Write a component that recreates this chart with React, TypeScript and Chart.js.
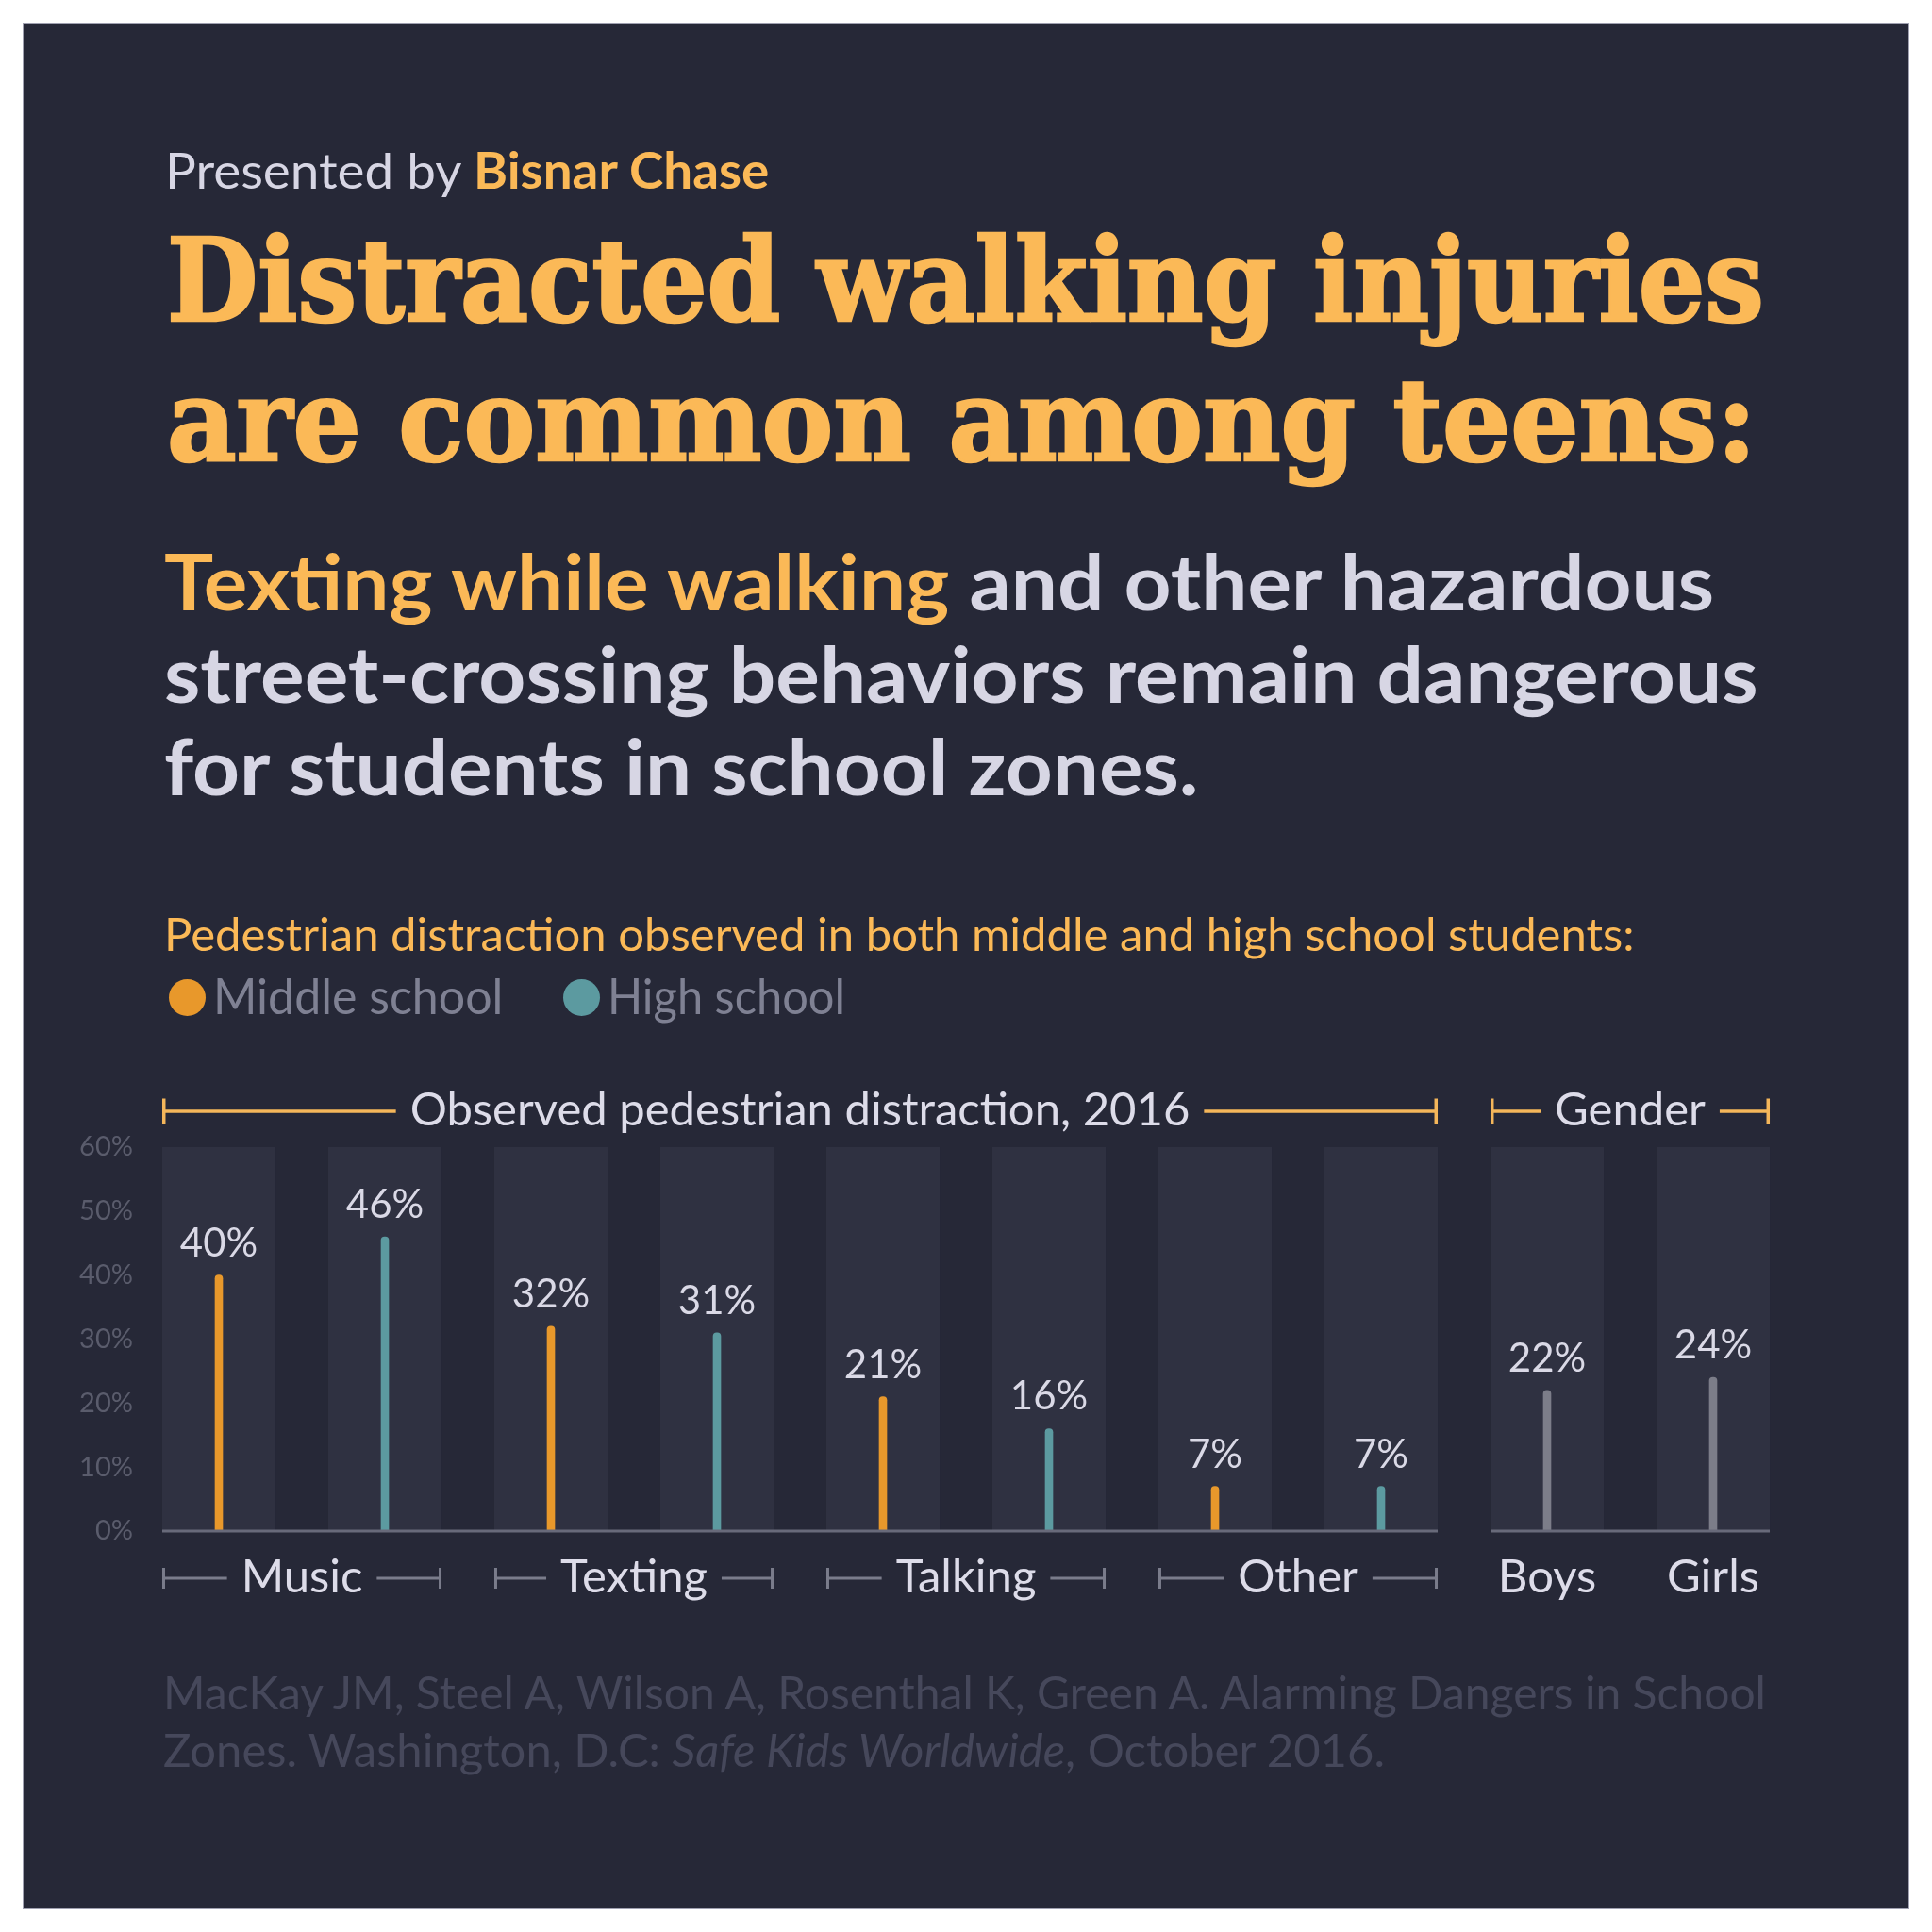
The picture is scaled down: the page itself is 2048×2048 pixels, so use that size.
import React, { useEffect, useLayoutEffect, useRef } from 'react';
import { Chart, registerables } from 'chart.js';

Chart.register(...registerables);

// ---------- data ----------
const GROUPS = ['Music', 'Texting', 'Talking', 'Other'];
const SERIES_NAMES = ['Middle school', 'High school'];
const MIDDLE_SCHOOL = [40, 32, 21, 7];
const HIGH_SCHOOL = [46, 31, 16, 7];
const GENDER_LABELS = ['Boys', 'Girls'];
const GENDER_VALUES = [22, 24];
const Y_TICKS = [0, 10, 20, 30, 40, 50, 60];
const AXIS_MAX = 60;
const MAIN_SECTION = 'Observed pedestrian distraction, 2016';
const GENDER_SECTION = 'Gender';

// ---------- style ----------
const ORANGE_TEXT = '#fbb957';
const LIGHT_TEXT = '#d7d6e4';
const PANEL_BG = '#262837';
const COLUMN_BG = '#2f3141';
const KIND_COLORS: Record<string, string> = {
  middle: '#e8982b',
  high: '#5c9aa0',
  gender: '#7c7d89',
};

type Slot = { key: string; value: number; kind: 'middle' | 'high' | 'gender' };
const SLOTS: Slot[] = [];
GROUPS.forEach((g, i) => {
  SLOTS.push({ key: `${g} – ${SERIES_NAMES[0]}`, value: MIDDLE_SCHOOL[i], kind: 'middle' });
  SLOTS.push({ key: `${g} – ${SERIES_NAMES[1]}`, value: HIGH_SCHOOL[i], kind: 'high' });
});
GENDER_LABELS.forEach((g, i) => {
  SLOTS.push({ key: g, value: GENDER_VALUES[i], kind: 'gender' });
});

// ---------- fitted text line ----------
function FitLine(props: {
  x: number;
  baseline: number;
  width: number;
  style?: React.CSSProperties;
  children: React.ReactNode;
}) {
  const { x, baseline, width, style, children } = props;
  const boxRef = useRef<HTMLDivElement>(null);
  const markRef = useRef<HTMLSpanElement>(null);
  useLayoutEffect(() => {
    const fit = () => {
      const box = boxRef.current;
      const mark = markRef.current;
      if (!box || !mark) return;
      box.style.transform = 'none';
      const w = box.offsetWidth;
      const b = mark.offsetTop;
      box.style.top = `${baseline - b}px`;
      if (w > 0) box.style.transform = `scaleX(${width / w})`;
    };
    fit();
    const fonts = (document as any).fonts;
    if (fonts && fonts.ready) fonts.ready.then(fit);
  }, [x, baseline, width]);
  return (
    <div
      ref={boxRef}
      style={{
        position: 'absolute',
        left: x,
        top: 0,
        whiteSpace: 'nowrap',
        lineHeight: 'normal',
        transformOrigin: '0 0',
        ...style,
      }}
    >
      {children}
      <span
        ref={markRef}
        style={{ display: 'inline-block', width: 0, height: 0, verticalAlign: 'baseline' }}
      />
    </div>
  );
}

// ---------- chart ----------
function drawBracket(
  ctx: CanvasRenderingContext2D,
  l: number,
  r: number,
  y: number,
  text: string,
  lineColor: string,
  textColor: string,
  tick: number,
  lineWidth: number
) {
  const mid = (l + r) / 2;
  ctx.font = '400 49px Lato';
  const tw = ctx.measureText(text).width;
  const gap = 15;
  ctx.strokeStyle = lineColor;
  ctx.lineWidth = lineWidth;
  ctx.lineCap = 'butt';
  ctx.beginPath();
  ctx.moveTo(l, y);
  ctx.lineTo(mid - tw / 2 - gap, y);
  ctx.moveTo(mid + tw / 2 + gap, y);
  ctx.lineTo(r, y);
  ctx.moveTo(l + lineWidth / 2, y - tick / 2);
  ctx.lineTo(l + lineWidth / 2, y + tick / 2);
  ctx.moveTo(r - lineWidth / 2, y - tick / 2);
  ctx.lineTo(r - lineWidth / 2, y + tick / 2);
  ctx.stroke();
  ctx.fillStyle = textColor;
  ctx.textAlign = 'center';
  ctx.textBaseline = 'alphabetic';
  ctx.fillText(text, mid, y + 15);
}

const decorPlugin = {
  id: 'decor',
  afterDatasetsDraw(chart: any) {
    const ctx: CanvasRenderingContext2D = chart.ctx;
    const cols = chart.getDatasetMeta(0).data as any[];
    const stems = chart.getDatasetMeta(1).data as any[];
    const { top, bottom } = chart.chartArea;
    const L = (i: number) => cols[i].x - cols[i].width / 2;
    const R = (i: number) => cols[i].x + cols[i].width / 2;
    const nMain = GROUPS.length * 2;
    const nAll = SLOTS.length;

    ctx.save();
    // baselines
    ctx.strokeStyle = '#686a7a';
    ctx.lineWidth = 3;
    ctx.beginPath();
    ctx.moveTo(L(0), bottom);
    ctx.lineTo(R(nMain - 1), bottom);
    ctx.moveTo(L(nMain), bottom);
    ctx.lineTo(R(nAll - 1), bottom);
    ctx.stroke();

    // value labels
    ctx.font = '400 42px Lato';
    ctx.fillStyle = '#dad9e6';
    ctx.textAlign = 'center';
    ctx.textBaseline = 'alphabetic';
    stems.forEach((el: any, i: number) => {
      ctx.fillText(`${SLOTS[i].value}%`, el.x, el.y - 20);
    });

    // top section brackets
    drawBracket(ctx, L(0), R(nMain - 1), top - 38, MAIN_SECTION, '#f4b65a', '#dddce9', 27, 3.5);
    drawBracket(ctx, L(nMain), R(nAll - 1), top - 38, GENDER_SECTION, '#f4b65a', '#dddce9', 27, 3.5);

    // category brackets
    GROUPS.forEach((g, gi) => {
      drawBracket(ctx, L(gi * 2), R(gi * 2 + 1), bottom + 50, g, '#7a7c8b', '#dddce9', 22, 3);
    });
    ctx.font = '400 49px Lato';
    ctx.fillStyle = '#dddce9';
    ctx.textAlign = 'center';
    GENDER_LABELS.forEach((g, gi) => {
      ctx.fillText(g, cols[nMain + gi].x, bottom + 65);
    });
    ctx.restore();
  },
};

function PedChart() {
  const ref = useRef<HTMLCanvasElement>(null);
  useEffect(() => {
    if (!ref.current) return;
    const chart = new Chart(ref.current, {
      type: 'bar',
      data: {
        labels: SLOTS.map((s) => s.key),
        datasets: [
          {
            label: 'column',
            data: SLOTS.map(() => AXIS_MAX),
            backgroundColor: COLUMN_BG,
            barPercentage: 0.682,
            categoryPercentage: 1,
            grouped: false,
            order: 2,
          } as any,
          {
            label: 'share',
            data: SLOTS.map((s) => s.value),
            backgroundColor: SLOTS.map((s) => KIND_COLORS[s.kind]),
            barThickness: 8,
            borderRadius: 4,
            grouped: false,
            order: 1,
          } as any,
        ],
      },
      options: {
        responsive: false,
        animation: false,
        devicePixelRatio: 1,
        layout: { padding: { left: 44, right: 144, top: 116, bottom: 177 } },
        plugins: { legend: { display: false }, tooltip: { enabled: false } },
        scales: {
          x: { display: false, offset: true },
          y: {
            min: 0,
            max: AXIS_MAX,
            grid: { display: false, drawTicks: false },
            border: { display: false },
            afterBuildTicks: (s: any) => {
              s.ticks = Y_TICKS.map((v) => ({ value: v }));
            },
            afterFit: (s: any) => {
              s.width = 100;
            },
            ticks: {
              padding: 3,
              color: '#5a5c6c',
              font: { family: 'Lato', size: 29 },
              callback: (v: any) => `${v}%`,
            },
          },
        },
      } as any,
      plugins: [decorPlugin],
    });
    return () => chart.destroy();
  }, []);
  return (
    <canvas
      ref={ref}
      width={2048}
      height={700}
      style={{ position: 'absolute', left: 0, top: 1100, width: 2048, height: 700 }}
    />
  );
}

export default function App() {
  const lato = 'Lato, "Noto Sans", sans-serif';
  const serif = '"DejaVu Serif Condensed", "DejaVu Serif", serif';
  const titleStyle: React.CSSProperties = {
    fontFamily: serif,
    fontWeight: 700,
    fontSize: 121,
    color: ORANGE_TEXT,
    WebkitTextStroke: `2.5px ${ORANGE_TEXT}`,
  } as any;
  return (
    <div
      style={{
        position: 'absolute',
        left: 0,
        top: 0,
        width: 2048,
        height: 2048,
        background: '#ffffff',
        overflow: 'hidden',
      }}
    >
      <div
        style={{
          position: 'absolute',
          left: 25,
          top: 25,
          width: 1998,
          height: 1998,
          background: PANEL_BG,
          boxShadow: '0 0 0 1px #9fa0b0',
        }}
      />
      <FitLine x={175} baseline={200} width={640} style={{ fontFamily: lato, fontSize: 53 }}>
        <span style={{ color: LIGHT_TEXT, fontWeight: 400 }}>Presented by </span>
        <span style={{ color: ORANGE_TEXT, fontWeight: 700 }}>Bisnar Chase</span>
      </FitLine>

      <FitLine x={177} baseline={340} width={1693} style={titleStyle}>
        Distracted walking injuries
      </FitLine>
      <FitLine x={177} baseline={488} width={1685} style={titleStyle}>
        are common among teens:
      </FitLine>

      <FitLine
        x={174}
        baseline={647}
        width={1643}
        style={{ fontFamily: lato, fontWeight: 700, fontSize: 82, color: LIGHT_TEXT }}
      >
        <span style={{ color: ORANGE_TEXT }}>Texting while walking</span> and other hazardous
      </FitLine>
      <FitLine
        x={174}
        baseline={745}
        width={1689}
        style={{ fontFamily: lato, fontWeight: 700, fontSize: 82, color: LIGHT_TEXT }}
      >
        street-crossing behaviors remain dangerous
      </FitLine>
      <FitLine
        x={174}
        baseline={843}
        width={1096}
        style={{ fontFamily: lato, fontWeight: 700, fontSize: 82, color: LIGHT_TEXT }}
      >
        for students in school zones.
      </FitLine>

      <FitLine
        x={174}
        baseline={1008}
        width={1559}
        style={{ fontFamily: lato, fontWeight: 400, fontSize: 49, color: ORANGE_TEXT }}
      >
        Pedestrian distraction observed in both middle and high school students:
      </FitLine>

      <div
        style={{
          position: 'absolute',
          left: 179,
          top: 1038,
          width: 39,
          height: 39,
          borderRadius: '50%',
          background: KIND_COLORS.middle,
        }}
      />
      <FitLine x={226} baseline={1075} width={307} style={{ fontFamily: lato, fontSize: 53, color: '#7f8193' }}>
        {SERIES_NAMES[0]}
      </FitLine>
      <div
        style={{
          position: 'absolute',
          left: 597,
          top: 1038,
          width: 39,
          height: 39,
          borderRadius: '50%',
          background: KIND_COLORS.high,
        }}
      />
      <FitLine x={644} baseline={1075} width={252} style={{ fontFamily: lato, fontSize: 53, color: '#7f8193' }}>
        {SERIES_NAMES[1]}
      </FitLine>

      <PedChart />

      <FitLine x={173} baseline={1812} width={1699} style={{ fontFamily: lato, fontSize: 49, color: '#46485b' }}>
        MacKay JM, Steel A, Wilson A, Rosenthal K, Green A. Alarming Dangers in School
      </FitLine>
      <FitLine x={173} baseline={1873} width={1295} style={{ fontFamily: lato, fontSize: 49, color: '#46485b' }}>
        Zones. Washington, D.C: <span style={{ fontStyle: 'italic' }}>Safe Kids Worldwide</span>, October 2016.
      </FitLine>
    </div>
  );
}
